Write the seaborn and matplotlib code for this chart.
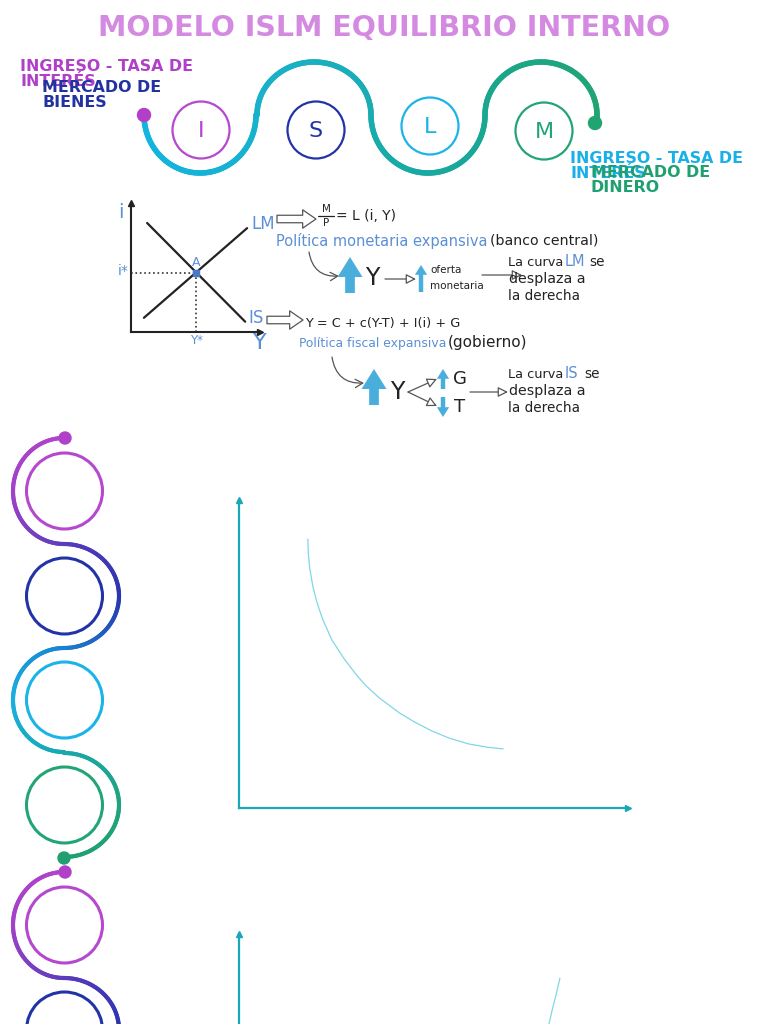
import numpy as np
import seaborn as sns
import matplotlib.pyplot as plt
from matplotlib.collections import LineCollection
from matplotlib.colors import LinearSegmentedColormap
from matplotlib.patches import Circle

# =========================
# DATA
# =========================
title = "MODELO ISLM EQUILIBRIO INTERNO"
letters = ["I", "S", "L", "M"]
ring_colors = ["#b548cf", "#2233a8", "#1ab4e8", "#22a574"]

left_labels = ["INGRESO - TASA DE\nINTERÉS", "MERCADO DE\nBIENES"]
right_labels = ["INGRESO - TASA DE\nINTERÉS", "MERCADO DE\nDINERO"]

# pequeño diagrama IS-LM (escala 0-10)
lm_Y = [1.0, 9.0]
lm_i = [1.1, 8.05]
is_Y = [1.25, 8.85]
is_i = [8.45, 0.8]
eq_Y, eq_i = 5.04, 4.6

# curva del primer grafico vacio (escala 0-10)
curve1_x = [1.77, 1.78, 1.82, 1.9, 2.0, 2.15, 2.39, 2.7, 3.0, 3.24, 3.6,
            4.11, 4.5, 4.96, 5.4, 5.9, 6.4, 6.79]
curve1_y = [8.73, 8.3, 7.77, 7.19, 6.69, 6.13, 5.45, 4.85, 4.35, 4.0, 3.58,
            3.1, 2.8, 2.5, 2.27, 2.08, 1.97, 1.92]

# curva del segundo grafico (solo se ve el inicio)
curve2_x = [8.25, 8.15, 8.05, 7.97, 7.81]
curve2_y = [8.57, 8.02, 7.53, 7.08, 6.40]

W, H = 768, 1024
BLUE_TXT = "#5b8fd6"
ARROW_BLUE = "#4aaedc"
TEAL = "#1aa8b8"
INK = "#222222"


def box(x0, y0, x1, y1):
    return [x0 / W, 1 - y1 / H, (x1 - x0) / W, (y1 - y0) / H]


def arc(cx, cy, rx, ry, t0, t1, n=80):
    t = np.linspace(t0, t1, n)
    return np.column_stack([cx + rx * np.cos(t), cy + ry * np.sin(t)])


def gradient_path(ax, pts, colors, lw):
    cmap = LinearSegmentedColormap.from_list("g", colors)
    segs = np.stack([pts[:-1], pts[1:]], axis=1)
    lc = LineCollection(segs, colors=cmap(np.linspace(0, 1, len(segs))),
                        linewidths=lw, capstyle="round", joinstyle="round")
    ax.add_collection(lc)


sns.set_theme(style="white")
plt.rcParams["font.family"] = ["DejaVu Sans"]

fig = plt.figure(figsize=(7.68, 10.24), dpi=100)
bg = fig.add_axes([0, 0, 1, 1])
bg.set_xlim(0, W)
bg.set_ylim(H, 0)
bg.axis("off")

# =========================
# TITULO Y ONDA SUPERIOR
# =========================
bg.text(384, 28, title, ha="center", va="center", fontsize=20.5,
        fontweight="bold", color="#d48ae0")

wave = np.vstack([
    arc(200, 115, 56, 58, np.pi, 0),
    arc(314, 115, 57, 53, np.pi, 2 * np.pi),
    arc(428, 115, 57, 58, np.pi, 0),
    arc(541, 115, 56, 53, np.pi, 2 * np.pi + 0.15),
])
gradient_path(bg, wave, ["#12b4e2", "#1ab0c6", "#18a89c", "#20a472"], 4)
bg.add_patch(Circle((144, 115), 6.5, color="#b040c8", zorder=3))
bg.add_patch(Circle((595, 123), 6.5, color="#20a470", zorder=3))

ring_x = [201, 316, 430, 544]
ring_y = [130, 130, 126, 131]
for x, y, c, l in zip(ring_x, ring_y, ring_colors, letters):
    bg.add_patch(Circle((x, y), 28.5, fill=False, ec=c, lw=1.6))
    bg.text(x, y + 1, l, ha="center", va="center", fontsize=16, color=c)

lab_kw = dict(ha="left", va="top", fontsize=11.4, fontweight="bold", linespacing=0.97)
bg.text(20, 59, left_labels[0], color="#b040c8", **lab_kw)
bg.text(42, 80, left_labels[1], color="#2233a0", **lab_kw)
bg.text(570, 151, right_labels[0], color="#19b0e8", **lab_kw)
bg.text(591, 165, right_labels[1], color="#20a070", **lab_kw)

# =========================
# DIAGRAMA IS-LM
# =========================
ax_islm = fig.add_axes(box(131, 203, 260, 332))
sns.lineplot(x=lm_Y, y=lm_i, ax=ax_islm, color=INK, lw=1.6, estimator=None)
sns.lineplot(x=is_Y, y=is_i, ax=ax_islm, color=INK, lw=1.6, estimator=None)
ax_islm.plot([0, eq_Y], [eq_i, eq_i], ls=":", color="#333333", lw=1.2)
ax_islm.plot([eq_Y, eq_Y], [0, eq_i], ls=":", color="#333333", lw=1.2)
ax_islm.plot(eq_Y, eq_i, "s", color="#4a78c8", ms=5)
ax_islm.set_xlim(0, 10)
ax_islm.set_ylim(0, 10)
ax_islm.set_xticks([])
ax_islm.set_yticks([])
ax_islm.patch.set_alpha(0)
for s in ["top", "right"]:
    ax_islm.spines[s].set_visible(False)
for s in ["left", "bottom"]:
    ax_islm.spines[s].set_color(INK)
    ax_islm.spines[s].set_linewidth(1.5)
ax_islm.plot(1, 0, ">", transform=ax_islm.transAxes, clip_on=False, ms=4, color=INK)
ax_islm.plot(0, 1, "^", transform=ax_islm.transAxes, clip_on=False, ms=4, color=INK)

bg.text(121, 213, "i", ha="center", va="center", fontsize=14, color=BLUE_TXT)
bg.text(129, 271, "i*", ha="right", va="center", fontsize=10, color=BLUE_TXT)
bg.text(196, 262, "A", ha="center", va="center", fontsize=9, color=BLUE_TXT)
bg.text(197, 340, "Y*", ha="center", va="center", fontsize=8.5, color=BLUE_TXT)
bg.text(260, 343, "Y", ha="center", va="center", fontsize=16, color=BLUE_TXT)
bg.text(263, 224, "LM", ha="center", va="center", fontsize=12, color=BLUE_TXT)
bg.text(256, 318, "IS", ha="center", va="center", fontsize=12, color=BLUE_TXT)


def hollow(x0, y0, x1, y1):
    bg.annotate("", xy=(x1, y1), xytext=(x0, y0),
                arrowprops=dict(arrowstyle="simple,head_width=1.1,head_length=0.8,tail_width=0.45",
                                fc="white", ec="#555555", lw=0.9, shrinkA=0, shrinkB=0))


def thin(x0, y0, x1, y1):
    bg.annotate("", xy=(x1, y1), xytext=(x0, y0),
                arrowprops=dict(arrowstyle="-|>,head_width=0.25,head_length=0.5",
                                fc="white", ec="#555555", lw=0.9, shrinkA=0, shrinkB=0))


def curved(x0, y0, x1, y1):
    bg.annotate("", xy=(x1, y1), xytext=(x0, y0),
                arrowprops=dict(arrowstyle="->,head_width=0.25,head_length=0.45",
                                color="#555555", lw=0.9, shrinkA=0, shrinkB=0,
                                connectionstyle="arc3,rad=0.45"))


def blue_arrow(x, y0, y1, big=True):
    hw, tw = (0.9, 0.35) if big else (0.55, 0.2)
    bg.annotate("", xy=(x, y1), xytext=(x, y0),
                arrowprops=dict(arrowstyle=f"simple,head_width={hw},head_length={hw * 0.8},tail_width={tw}",
                                fc=ARROW_BLUE, ec="none", shrinkA=0, shrinkB=0,
                                mutation_scale=20 if big else 16))


# LM
hollow(277, 219, 316, 219)
bg.text(326, 209, "M", ha="center", va="center", fontsize=7.5, color=INK)
bg.plot([318, 334], [215.5, 215.5], color=INK, lw=0.9)
bg.text(326, 223, "P", ha="center", va="center", fontsize=7.5, color=INK)
bg.text(336, 216, "= L (i, Y)", ha="left", va="center", fontsize=10, color=INK)
bg.text(276, 241, "Política monetaria expansiva", ha="left", va="center",
        fontsize=10.5, color=BLUE_TXT)
bg.text(490, 241, "(banco central)", ha="left", va="center", fontsize=10.2,
        color=INK)
curved(309, 252, 339, 276)
blue_arrow(350, 293, 257)
bg.text(372, 278, "Y", ha="center", va="center", fontsize=17, color=INK)
thin(385, 279, 416, 279)
blue_arrow(421, 292, 265, big=False)
bg.text(430, 270, "oferta", ha="left", va="center", fontsize=7.5, color=INK)
bg.text(430, 286, "monetaria", ha="left", va="center", fontsize=7.5, color=INK)
thin(482, 275, 522, 275)
bg.text(508, 262, "La curva", ha="left", va="center", fontsize=9.3, color=INK)
bg.text(565, 262, "LM", ha="left", va="center", fontsize=10.5, color=BLUE_TXT)
bg.text(589, 262, "se", ha="left", va="center", fontsize=9.8, color=INK)
bg.text(509, 279, "desplaza a", ha="left", va="center", fontsize=10.3, color=INK)
bg.text(508, 296, "la derecha", ha="left", va="center", fontsize=9.8, color=INK)

# IS
hollow(267, 320, 303, 320)
bg.text(305, 323, "Y = C + c(Y-T) + I(i) + G", ha="left", va="center",
        fontsize=9.3, color=INK)
bg.text(299, 343, "Política fiscal expansiva", ha="left", va="center",
        fontsize=8.9, color=BLUE_TXT)
bg.text(448, 343, "(gobierno)", ha="left", va="center", fontsize=11,
        color=INK)
curved(332, 357, 364, 383)
blue_arrow(374, 405, 369)
bg.text(397, 392, "Y", ha="center", va="center", fontsize=17, color=INK)
thin(408, 392, 437, 379)
thin(408, 392, 437, 406)
blue_arrow(443, 389, 369, big=False)
bg.text(460, 379, "G", ha="center", va="center", fontsize=13, color=INK)
blue_arrow(443, 397, 417, big=False)
bg.text(460, 407, "T", ha="center", va="center", fontsize=13, color=INK)
thin(470, 392, 508, 392)
bg.text(508, 374, "La curva", ha="left", va="center", fontsize=9.3, color=INK)
bg.text(565, 374, "IS", ha="left", va="center", fontsize=10.5, color=BLUE_TXT)
bg.text(584, 374, "se", ha="left", va="center", fontsize=9.8, color=INK)
bg.text(509, 391, "desplaza a", ha="left", va="center", fontsize=10.3, color=INK)
bg.text(508, 408, "la derecha", ha="left", va="center", fontsize=9.8, color=INK)

# =========================
# ESPIRALES LATERALES
# =========================
snake_colors = ["#b244cc", "#a042c8", "#5a3cbc", "#2a35b0", "#1a80d0",
                "#18b0e0", "#18a8b0", "#20a47e", "#20a070"]
for off in [0, 434]:
    cy = [491 + off, 596 + off, 700 + off, 805 + off]
    path = np.vstack([
        arc(64, cy[0], 51, 53, -np.pi / 2, -3 * np.pi / 2),
        arc(64, cy[1], 55, 52, -np.pi / 2, np.pi / 2),
        arc(64, cy[2], 51, 52, -np.pi / 2, -3 * np.pi / 2),
        arc(64, cy[3], 55, 52, -np.pi / 2, np.pi / 2),
    ])
    gradient_path(bg, path, snake_colors, 3)
    bg.add_patch(Circle((65, 438 + off), 6, color="#b040c8", zorder=3))
    bg.add_patch(Circle((64, 858 + off), 6, color="#20a070", zorder=3))
    for y, c in zip(cy, ring_colors):
        bg.add_patch(Circle((64.5, y), 38, fill=False, ec=c, lw=2.2))

# =========================
# GRAFICOS VACIOS
# =========================
for off, cx, cyv in [(0, curve1_x, curve1_y), (434, curve2_x, curve2_y)]:
    ax = fig.add_axes(box(239, 500 + off, 628, 808 + off))
    sns.lineplot(x=cx, y=cyv, ax=ax, sort=False, estimator=None,
                 color="#7fd8e4", lw=0.9)
    ax.set_xlim(0, 10)
    ax.set_ylim(0, 10)
    ax.set_xticks([])
    ax.set_yticks([])
    ax.set_xlabel("")
    ax.set_ylabel("")
    ax.patch.set_alpha(0)
    for s in ["top", "right"]:
        ax.spines[s].set_visible(False)
    for s in ["left", "bottom"]:
        ax.spines[s].set_color(TEAL)
        ax.spines[s].set_linewidth(1.6)
    ax.plot(1, 0, ">", transform=ax.transAxes, clip_on=False, ms=5, color=TEAL)
    ax.plot(0, 1, "^", transform=ax.transAxes, clip_on=False, ms=5, color=TEAL)

fig.savefig("out.png", dpi=100)
